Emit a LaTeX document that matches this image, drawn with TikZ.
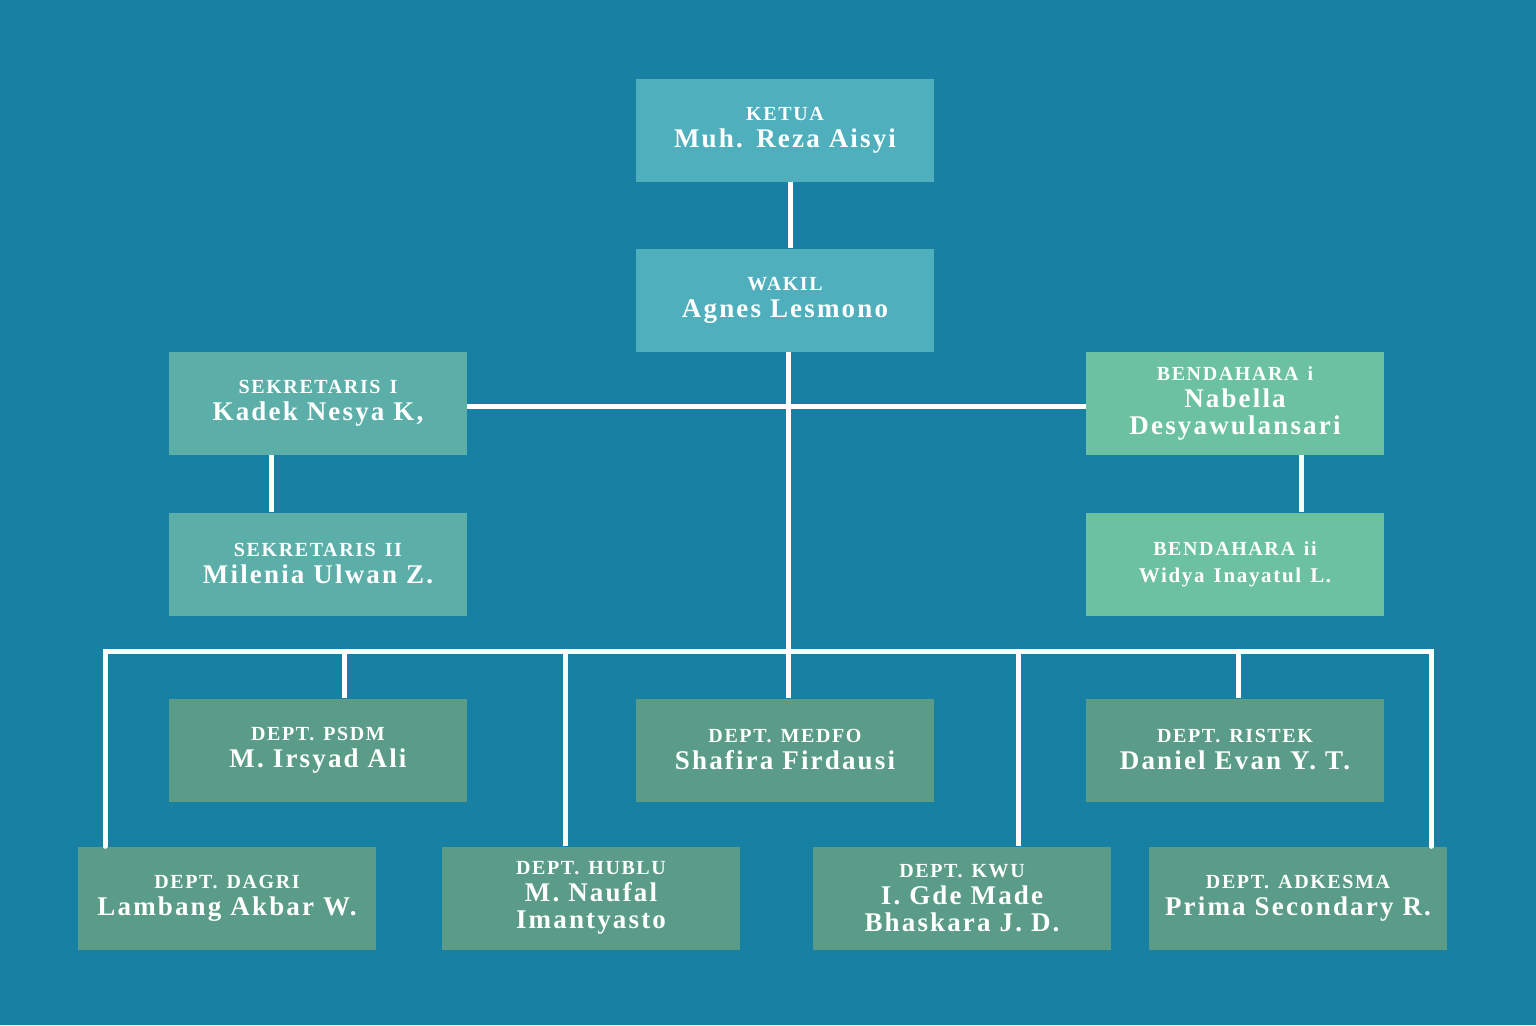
\documentclass[tikz,border=0pt]{standalone}
\usepackage{fontspec}
\setmainfont{Liberation Serif}[LetterSpace=8, WordSpace=4]
\usetikzlibrary{calc}
\definecolor{bg}{RGB}{23,128,163}
\definecolor{top}{RGB}{79,175,189}
\definecolor{sek}{RGB}{91,175,168}
\definecolor{ben}{RGB}{108,193,160}
\definecolor{dep}{RGB}{90,156,135}

\newcommand{\pos}[2]{{\fontsize{20}{26}\selectfont #1}\\#2}

\begin{document}
\begin{tikzpicture}[
    x=1pt, y=-1pt,
    font=\fontsize{27}{27}\selectfont\bfseries,
    l/.style={
        line width=5pt,
        color=white
    },
    e/.style={
        minimum width=298pt, minimum height=103pt, inner sep=0pt,
        text width=296pt, align=center, text=white
    }
]

    \fill [bg] (0,0) rectangle (1536,1025);

    \node [e, fill=top] (ketua) at ( 785, 130) {\pos{KETUA}{Muh. Reza Aisyi}};
    \node [e, fill=top] (wakil) at ( 785, 300) {\pos{WAKIL}{Agnes Lesmono}};
    \node [e, fill=sek] (sek1)  at ( 318, 403) {\pos{SEKRETARIS I}{Kadek Nesya K,}};
    \node [e, fill=sek] (sek2)  at ( 318, 564) {\pos{SEKRETARIS II}{Milenia Ulwan Z.}};
    \node [e, fill=ben] (ben1)  at (1235, 403) {\pos{BENDAHARA i}{Nabella\\Desyawulansari}};
    \node [e, fill=ben] (ben2)  at (1235, 564) {\pos{BENDAHARA ii}{\fontsize{21}{22}\selectfont Widya Inayatul L.}};
    \node [e, fill=dep] (psdm)  at ( 318, 750) {\pos{DEPT. PSDM}{M. Irsyad Ali}};
    \node [e, fill=dep] (medfo) at ( 785, 750) {\pos{DEPT. MEDFO}{Shafira Firdausi}};
    \node [e, fill=dep] (ristek) at (1235, 750) {\pos{DEPT. RISTEK}{Daniel Evan Y. T.}};
    \node [e, fill=dep] (dagri) at ( 227, 898) {\pos{DEPT. DAGRI}{Lambang Akbar W.}};
    \node [e, fill=dep] (hublu) at ( 591, 898) {\pos{DEPT. HUBLU}{M. Naufal\\Imantyasto}};
    \node [e, fill=dep] (kwu)   at ( 962, 898) {\pos{DEPT. KWU}{I. Gde Made\\Bhaskara J. D.}};
    \node [e, fill=dep] (adkesma) at (1298, 898) {\pos{DEPT. ADKESMA}{Prima Secondary R.}};

    \coordinate (busL) at (105, 651);
    \coordinate (busR) at (1431, 651);
    \coordinate (mid) at (788, 406);

    \draw [l] (ketua.south -| 790,0) -- (wakil.north -| 790,0);
    \draw [l] (wakil.south -| mid) -- (medfo.north -| mid);
    \draw [l] (sek1.east |- mid) -- (ben1.west |- mid);
    \draw [l] (sek1.south -| 271,0) -- (sek2.north -| 271,0);
    \draw [l] (ben1.south -| 1301,0) -- (ben2.north -| 1301,0);
    \draw [l, line cap=round] (dagri.north -| busL) -- (busL) -- (busR) -- (adkesma.north -| busR);
    \draw [l] (busL -| 344,0) -- (psdm.north -| 344,0);
    \draw [l] (busL -| 565,0) -- (hublu.north -| 565,0);
    \draw [l] (busL -| 1018,0) -- (kwu.north -| 1018,0);
    \draw [l] (busL -| 1238,0) -- (ristek.north -| 1238,0);

\end{tikzpicture}
\end{document}
